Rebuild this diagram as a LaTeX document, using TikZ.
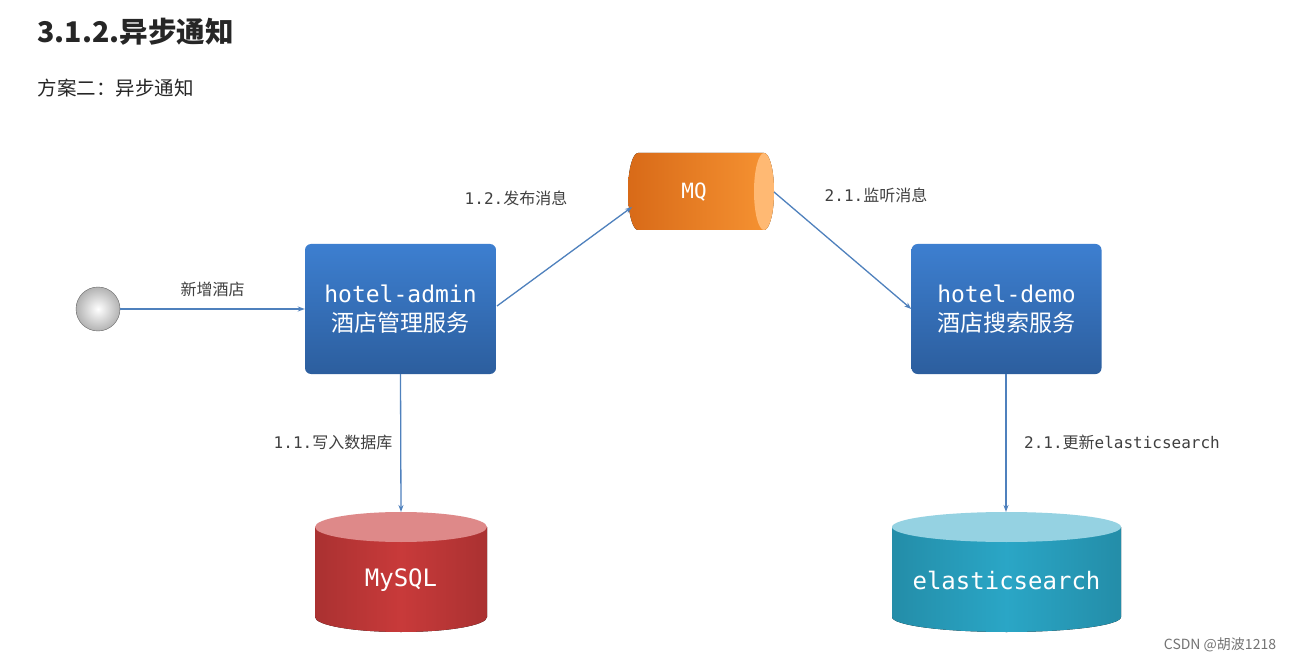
\documentclass[tikz,border=0pt]{standalone}
\usepackage{fontspec}
\setmainfont{Noto Sans CJK SC}
\newfontfamily\cjk{Noto Sans CJK SC}
\setmonofont{DejaVu Sans Mono}
\usetikzlibrary{arrows.meta,shapes.geometric}
\begin{document}
\begin{tikzpicture}[x=1pt,y=-1pt]
\definecolor{arr}{HTML}{4F81BD}
\tikzset{conn/.style={draw=arr,line width=1.3pt,-{Stealth[length=7pt,width=5pt]}},
  lbl/.style={font=\fontsize{16}{18}\selectfont,text=black!75}}
\newcommand\tm[1]{{\ttfamily #1}}
\path[use as bounding box] (0,0) rectangle (1302,663);
\fill[white] (0,0) rectangle (1302,663);
\node[anchor=west,font=\bfseries\fontsize{28.5}{31}\selectfont,text=black!85] (title) at (34,32) {3.1.2.异步通知};
\node[anchor=west,font=\fontsize{19.5}{22}\selectfont,text=black!85] (sub) at (34,88) {方案二：异步通知};
% circle
\node[circle,minimum size=44pt,inner sep=0,draw=black!60,inner color=white,outer color=black!30] (start) at (98,309) {};
% service boxes
\definecolor{bt}{HTML}{3D7FD0}\definecolor{bb}{HTML}{2C5E9E}
\node[rounded corners=6pt,minimum width=191pt,minimum height=130pt,top color=bt,bottom color=bb,text=white,align=center,font=\fontsize{23}{29}\selectfont] (admin) at (400.5,309) {{\ttfamily hotel-admin}\\酒店管理服务};
\node[rounded corners=6pt,minimum width=190pt,minimum height=130pt,top color=bt,bottom color=bb,text=white,align=center,font=\fontsize{23}{29}\selectfont] (demo) at (1006.5,309) {{\ttfamily hotel-demo}\\酒店搜索服务};
% MQ cylinder (horizontal)
\definecolor{ot}{HTML}{D86A18}\definecolor{ob}{HTML}{F79433}
\fill[left color=ot,right color=ob] (638,153) -- (764,153) arc[start angle=-90,end angle=90,x radius=10,y radius=38.5] -- (638,230) arc[start angle=90,end angle=270,x radius=10,y radius=38.5] -- cycle;
\fill[color=orange!55!white] (764,191.5) ellipse[x radius=10,y radius=38.5];
\node[font=\ttfamily\fontsize{21}{24}\selectfont,text=white] (mq) at (694,192) {MQ};
\coordinate (mqL) at (632,207);
\coordinate (mqR) at (774,192);
% MySQL
\definecolor{rt}{HTML}{C83A3A}
\fill[left color=rt!85!black,right color=rt!85!black,middle color=rt] (315,527) -- (315,617) arc[start angle=180,end angle=0,x radius=86,y radius=15] -- (487,527) -- cycle;
\fill[color=rt!60!white] (401,527) ellipse[x radius=86,y radius=15];
\node[font=\ttfamily\fontsize{24}{28}\selectfont,text=white] (mysql) at (401,580) {MySQL};
\coordinate (mysqlT) at (401,512);
% ES
\definecolor{tt}{HTML}{2AA6C6}
\fill[left color=tt!85!black,right color=tt!85!black,middle color=tt] (892,527) -- (892,617) arc[start angle=180,end angle=0,x radius=114.5,y radius=15] -- (1121,527) -- cycle;
\fill[color=tt!50!white] (1006.5,527) ellipse[x radius=114.5,y radius=15];
\node[font=\ttfamily\fontsize{24}{28}\selectfont,text=white] (es) at (1006.5,580) {elasticsearch};
\coordinate (esT) at (1006,512);
% connectors
\draw[conn] (start.east) -- (admin.west) node[lbl,midway,above=8pt] {新增酒店};
\draw[conn] (497,306) -- (mqL);
\node[lbl] (l12) at (516,198) {\tm{1.2.}发布消息};
\draw[conn] (mqR) -- (demo.west);
\node[lbl] (l21) at (876,195) {\tm{2.1.}监听消息};
\draw[conn] (admin.south) -- (mysqlT);
\node[lbl] (l11) at (333,442) {\tm{1.1.}写入数据库};
\draw[conn] (demo.south -| esT) -- (esT);
\node[lbl] (l22) at (1122,442) {\tm{2.1.}更新\tm{elasticsearch}};
\node[font=\fontsize{14}{16}\selectfont,text=black!55] (wm) at (1220,645) {CSDN @胡波1218};
\end{tikzpicture}
\end{document}
